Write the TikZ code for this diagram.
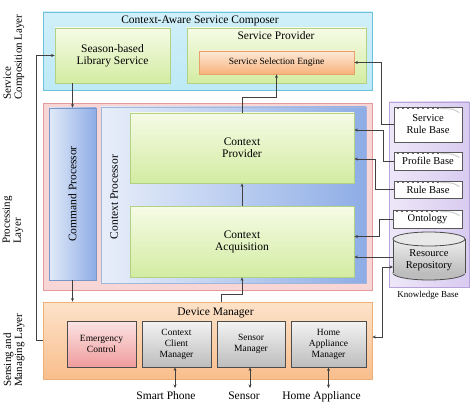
\documentclass[tikz,border=0pt]{standalone}
\usepackage{fontspec}
\setmainfont{Liberation Serif}
\usetikzlibrary{arrows.meta,calc,shadows}
\definecolor{cyanF}{HTML}{BDE9F6}
\definecolor{cyanD}{HTML}{6CC4DC}
\definecolor{grnT}{HTML}{F6FBE6}
\definecolor{grnB}{HTML}{D3ECA2}
\definecolor{grnD}{HTML}{B2D283}
\definecolor{orT}{HTML}{FDE9D8}
\definecolor{orB}{HTML}{F7B27A}
\definecolor{orD}{HTML}{E7A26A}
\definecolor{pinkF}{HTML}{F8D6D6}
\definecolor{pinkD}{HTML}{E39B9B}
\definecolor{bluL}{HTML}{E2EAF8}
\definecolor{bluR}{HTML}{8EADE6}
\definecolor{bluD}{HTML}{7B97C9}
\definecolor{kbL}{HTML}{EEE7F8}
\definecolor{kbR}{HTML}{D8CBF0}
\definecolor{kbD}{HTML}{B7A3DA}
\definecolor{dmT}{HTML}{FDE2C9}
\definecolor{dmB}{HTML}{F9BE8C}
\definecolor{dmD}{HTML}{F0AE78}
\definecolor{emT}{HTML}{FBE4E4}
\definecolor{emB}{HTML}{F09C9C}
\definecolor{gyT}{HTML}{F3F3F3}
\definecolor{gyB}{HTML}{BDBDBD}
\tikzset{
  big/.style={font=\fontsize{11.5}{12}\selectfont},
  mid/.style={font=\fontsize{10.5}{12}\selectfont},
  sml/.style={font=\fontsize{9.5}{11}\selectfont},
  tiny/.style={font=\fontsize{9}{11}\selectfont},
  box/.style={rectangle, inner sep=0pt, align=center, line width=0.8pt},
  shad/.style={drop shadow={shadow xshift=1.2pt, shadow yshift=-1.2pt, opacity=0.35}},
  greenbox/.style={box, shad, draw=grnD, top color=grnT, bottom color=grnB},
  graybox/.style={box, shad, draw=black!70, top color=gyT, bottom color=gyB},
  docbox/.style={box, draw=black!65, fill=white},
  conn/.style={draw=black!75, line width=0.6pt, -{Stealth[length=3.5pt,width=3pt]}},
  biconn/.style={draw=black!75, line width=0.6pt, {Stealth[length=3.5pt,width=3pt]}-{Stealth[length=3.5pt,width=3pt]}},
  layer/.style={rotate=90, anchor=west, align=left, inner sep=0pt, font=\fontsize{11}{11}\selectfont},
}
\newcommand{\tornTop}[1]{%
  \draw[black!60, line width=1.3pt, dash pattern=on 2pt off 3pt] ($(#1.north west)+(3,2)$) -- ($(#1.north east)+(-22,2)$);
  \draw[black!20, line width=1pt] ($(#1.north east)+(-22,2)$) .. controls ($(#1.north east)+(-10,2)$) .. ($(#1.north east)+(-3,6)$);
}
\begin{document}
\begin{tikzpicture}[x=1pt,y=-1pt]
\useasboundingbox (0,0) rectangle (474,409);
\fill[white] (0,0) rectangle (474,409);

% layer labels
\node[layer] (l1) at (14,100) {Service\\Composition Layer};
\node[layer] (l2) at (13,244) {Processing\\Layer};
\node[layer] (l3) at (14,387) {Sensing and\\Managing Layer};

% service composition layer
\node[box, shad, draw=cyanD, top color=cyanF!70!white, bottom color=cyanF, minimum width=329, minimum height=78] (comp) at (207.5,51) {};
\node[big] (compT) at (200,21) {Context-Aware Service Composer};
\node[greenbox, big, minimum width=115, minimum height=55] (sbl) at (112.5,55.5) {Season-based\\Library Service};
\node[greenbox, minimum width=179, minimum height=55] (sp) at (276.5,55.5) {};
\node[big] (spT) at (276,36) {Service Provider};
\node[box, shad, draw=orD, top color=orT, bottom color=orB, minimum width=155, minimum height=23, sml] (sse) at (276.5,62.5) {Service Selection Engine};

% processing layer
\node[box, draw=pinkD, fill=pinkF, minimum width=329, minimum height=187] (proc) at (207.5,196.5) {};
\node[box, shad, draw=bluD, left color=bluL, right color=bluR, minimum width=47, minimum height=172,
  label={[rotate=90, big]center:Command Processor}] (cmd) at (72.5,194) {};
\node[box, draw=bluD!70, left color=bluL!80!white, right color=bluR, minimum width=265, minimum height=176] (ctxp) at (233.5,195) {};
\node[big, rotate=90] (ctxpT) at (114,197) {Context Processor};
\node[greenbox, big, minimum width=224, minimum height=70] (cprov) at (242,148) {Context\\Provider};
\node[greenbox, big, minimum width=224, minimum height=71] (cacq) at (242,241.5) {Context\\Acquisition};

% knowledge base
\node[box, draw=kbD, left color=kbL, right color=kbR, minimum width=80, minimum height=185] (kb) at (429,194.5) {};
\node[tiny] (kbT) at (428,295) {Knowledge Base};
\node[docbox, mid, minimum width=68, minimum height=35] (srb) at (428,124.5) {Service\\Rule Base};
\node[docbox, mid, minimum width=68, minimum height=18] (pb) at (428,161) {Profile Base};
\node[docbox, mid, minimum width=68, minimum height=17] (rb) at (428,189.5) {Rule Base};
\node[docbox, mid, minimum width=69, minimum height=18] (ont) at (427.5,219) {Ontology};
\tornTop{srb}\tornTop{pb}\tornTop{rb}\tornTop{ont}
% cylinder
\filldraw[draw=black!70, line width=0.8pt, fill=gyB] (429,273) ellipse [x radius=36, y radius=7];
\fill[top color=gyT!90!gyB, bottom color=gyB] (393,239) rectangle (465,273);
\draw[black!70, line width=0.8pt] (393,239) -- (393,273) (465,239) -- (465,273);
\filldraw[draw=black!70, line width=0.8pt, fill=gyT!80!gyB] (429,239) ellipse [x radius=36, y radius=7];
\node[box, mid, minimum width=72, minimum height=46, line width=0pt] (rr) at (429,260) {Resource\\Repository};

% device manager
\node[box, draw=dmD, top color=dmT, bottom color=dmB, minimum width=329, minimum height=77] (dm) at (207.5,340.5) {};
\node[big] (dmT) at (215.5,313) {Device Manager};
\node[box, shad, draw=black!70, top color=emT, bottom color=emB, sml, minimum width=69, minimum height=46] (emc) at (101.5,344) {Emergency\\Control};
\node[graybox, sml, minimum width=69, minimum height=46] (ccm) at (176.5,344) {Context\\Client\\Manager};
\node[graybox, sml, minimum width=68, minimum height=46] (smg) at (251,344) {Sensor\\Manager};
\node[graybox, sml, minimum width=75, minimum height=46] (ham) at (328.5,344) {Home\\Appliance\\Manager};

\node[big, anchor=north] (sph) at (166,388) {Smart Phone};
\node[big, anchor=north] (sen) at (244,388) {Sensor};
\node[big, anchor=north] (hap) at (321.5,388) {Home Appliance};

% connectors
\draw[conn] (dm.west) -- ++(-6,0) |- (sbl.west);
\draw[conn] (sbl.south -| cmd.north) -- (cmd.north);
\draw[conn] (cmd.south) -- (cmd.south |- dm.north);
\draw[conn] (cprov.north) -- ++(0,-15) -| (sse.south);
\draw[conn] (srb.west) -- ++(-12,0) |- (sse.east);
\draw[conn] (pb.west) -- ++(-10,0) |- ([yshift=18pt]cprov.east);
\draw[conn] (rb.west) -- ++(-18,0) |- ([yshift=-11pt]cprov.east);
\draw[conn] (ont.west) -- ++(-13,0) |- ([yshift=5pt]cacq.east);
\draw[conn] ([yshift=3pt]rr.west) -- ([yshift=3pt]rr.west -| cacq.east);
\draw[biconn] ([yshift=3.5pt]dm.east) -- ++(10,0) |- ([yshift=-7pt]rr.west);
\draw[conn] ([xshift=13.5pt]dm.north) -- ++(0,-7) -| (cacq.south);
\draw[conn] (cacq.north) -- (cprov.south);
\draw[biconn] ([xshift=-1.5pt]ccm.south) -- ([xshift=-1.5pt]ccm.south |- sph.north);
\draw[biconn] ([xshift=-1pt]smg.south) -- ([xshift=-1pt]smg.south |- sen.north);
\draw[biconn] (ham.south) -- (ham.south |- hap.north);
\end{tikzpicture}
\end{document}
